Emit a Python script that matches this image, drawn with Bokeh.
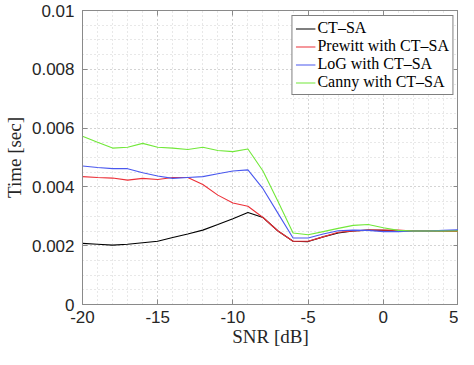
from bokeh.plotting import figure
from bokeh.models import (Range1d, FixedTicker, LinearAxis, Legend, LegendItem)
from bokeh.embed import file_html
from bokeh.resources import INLINE

snr = [-20, -19, -18, -17, -16, -15, -14, -13, -12, -11, -10, -9, -8, -7, -6, -5, -4, -3, -2, -1, 0, 1, 2, 3, 4, 5]

ct_sa = [0.00208, 0.00205, 0.00202, 0.00205, 0.00210, 0.00215, 0.00228, 0.00240, 0.00253, 0.00272, 0.00292,
         0.00313, 0.00296, 0.00250, 0.00215, 0.00214, 0.00230, 0.00243, 0.00250, 0.00253, 0.00252,
         0.00250, 0.00250, 0.00250, 0.00250, 0.00250]
prewitt = [0.00435, 0.00432, 0.00430, 0.00423, 0.00429, 0.00425, 0.00432, 0.00432, 0.00408, 0.00372, 0.00345,
           0.00334, 0.00296, 0.00250, 0.00215, 0.00215, 0.00230, 0.00246, 0.00250, 0.00253, 0.00253,
           0.00253, 0.00250, 0.00250, 0.00250, 0.00248]
log_ = [0.00471, 0.00466, 0.00462, 0.00462, 0.00448, 0.00437, 0.00429, 0.00432, 0.00435, 0.00445, 0.00454,
        0.00458, 0.00394, 0.00310, 0.00226, 0.00226, 0.00240, 0.00251, 0.00253, 0.00252, 0.00248,
        0.00248, 0.00250, 0.00250, 0.00252, 0.00254]
canny = [0.00572, 0.00552, 0.00532, 0.00535, 0.00548, 0.00535, 0.00532, 0.00527, 0.00535, 0.00524, 0.00520,
         0.00529, 0.00454, 0.00350, 0.00243, 0.00237, 0.00248, 0.00259, 0.00269, 0.00272, 0.00261,
         0.00252, 0.00250, 0.00250, 0.00250, 0.00250]

labels = ["CT\u2013SA", "Prewitt with CT\u2013SA", "LoG with CT\u2013SA", "Canny with CT\u2013SA"]
colors = ["#000000", "#ec3038", "#4a58ee", "#72e83a"]
series = [ct_sa, prewitt, log_, canny]

x_ticks = [-20, -15, -10, -5, 0, 5]
x_tick_labels = ["-20", "-15", "-10", "-5", "0", "5"]
y_ticks = [0, 0.002, 0.004, 0.006, 0.008, 0.01]
y_tick_labels = ["0", "0.002", "0.004", "0.006", "0.008", "0.01"]

p = figure(width=458, height=349, output_backend="svg", toolbar_location=None,
           x_range=Range1d(-20, 5), y_range=Range1d(0, 0.01),
           min_border_left=4, min_border_right=0, min_border_top=10, min_border_bottom=0)

axis_gray = "#8a8a8a"
p.outline_line_color = axis_gray

for ax in (p.xaxis[0], p.yaxis[0]):
    ax.axis_line_color = axis_gray
    ax.major_tick_line_color = axis_gray
    ax.minor_tick_line_color = None
    ax.major_tick_in = 5
    ax.major_tick_out = 0
    ax.major_label_text_font = "Liberation Sans"
    ax.major_label_text_font_size = "17px"
    ax.major_label_text_color = "#262626"
    ax.axis_label_text_font = "Liberation Serif"
    ax.axis_label_text_font_style = "normal"
    ax.axis_label_text_font_size = "19px"
    ax.axis_label_text_color = "#262626"

p.xaxis[0].ticker = FixedTicker(ticks=x_ticks, minor_ticks=list(range(-20, 6)))
p.yaxis[0].ticker = FixedTicker(ticks=y_ticks, minor_ticks=[i * 0.0005 for i in range(21)])
p.xaxis[0].major_label_overrides = {v: s for v, s in zip(x_ticks, x_tick_labels)}
p.yaxis[0].major_label_overrides = {v: s for v, s in zip(y_ticks, y_tick_labels)}
p.xaxis[0].axis_label = "SNR [dB]"
p.yaxis[0].axis_label = "Time [sec]"
p.xaxis[0].major_label_standoff = 2
p.yaxis[0].major_label_standoff = 4
p.xaxis[0].axis_label_standoff = 0
p.yaxis[0].axis_label_standoff = 4

for loc, tick in (("right", FixedTicker(ticks=y_ticks)), ("above", FixedTicker(ticks=x_ticks))):
    ax = LinearAxis(ticker=tick)
    ax.axis_line_color = axis_gray
    ax.major_tick_line_color = axis_gray
    ax.minor_tick_line_color = None
    ax.major_tick_in = 5
    ax.major_tick_out = 0
    ax.major_label_text_color = None
    ax.major_label_text_font_size = "1px"
    ax.major_label_standoff = 0
    p.add_layout(ax, loc)

for g in (p.xgrid[0], p.ygrid[0]):
    g.grid_line_color = "#c0c0c0"
    g.grid_line_dash = "1 3"
    g.minor_grid_line_color = "#d0d0d0"
    g.minor_grid_line_dash = "1 3"

items = []
for lab, col, ys in zip(labels, colors, series):
    r = p.line(snr, ys, line_color=col, line_width=1.1)
    items.append(LegendItem(label=lab, renderers=[r]))

legend = Legend(items=items, location="top_right")
legend.label_text_font = "Liberation Serif"
legend.label_text_font_size = "16px"
legend.label_text_color = "#000000"
legend.glyph_width = 20
legend.glyph_height = 15
legend.label_height = 15
legend.spacing = 0
legend.padding = 3
legend.margin = 5
legend.label_standoff = 2
legend.border_line_color = "#000000"
legend.border_line_width = 1
legend.background_fill_color = "white"
legend.background_fill_alpha = 1.0
p.add_layout(legend)

open("out.html", "w").write(file_html(p, INLINE))
